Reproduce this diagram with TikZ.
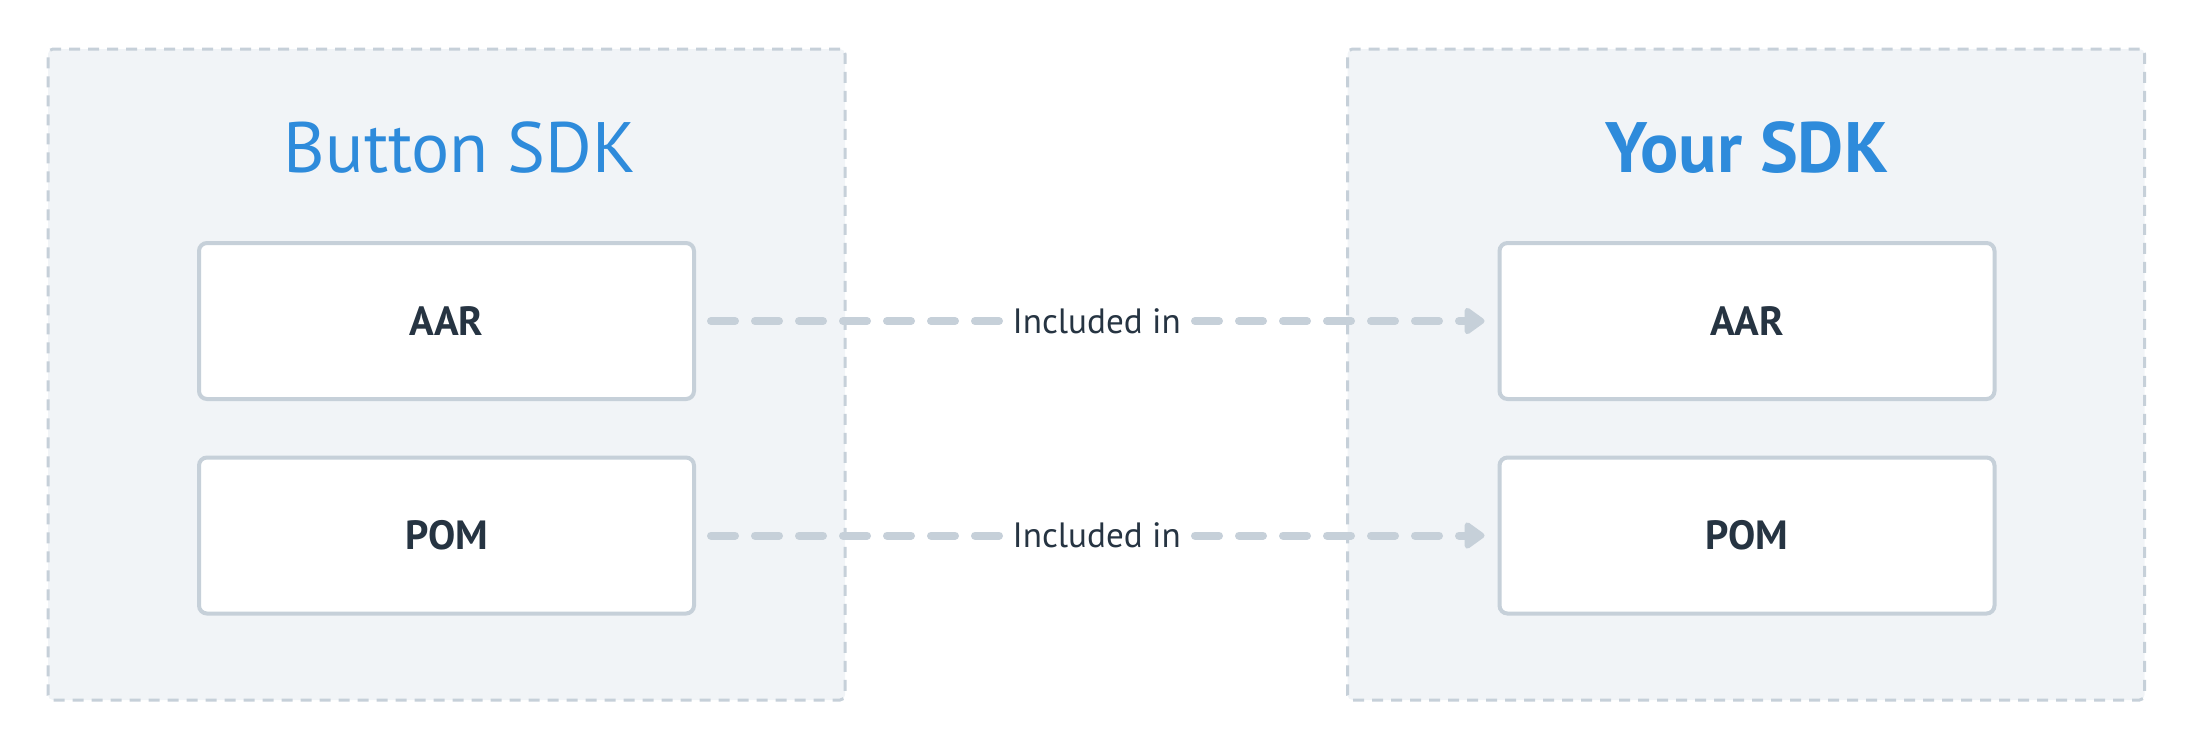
\documentclass[tikz,border=0pt]{standalone}
\usepackage{fontspec}
\setmainfont{PT Sans}
\usetikzlibrary{arrows.meta, positioning}
\definecolor{sdkfill}{RGB}{241, 244, 247}
\definecolor{sdkline}{RGB}{198, 208, 217}
\definecolor{titleblue}{RGB}{46, 139, 219}
\definecolor{textdark}{RGB}{38, 52, 66}

\begin{document}
\begin{tikzpicture}[
    sdk/.style={draw=sdkline, fill=sdkfill, line width=0.3mm, dash pattern=on 1.1mm off 0.8mm, rounded corners=0.5mm, minimum width=7.97cm, minimum height=6.51cm, inner sep=0pt},
    sdktitle/.style={text=titleblue, font=\fontsize{20.3}{24}\selectfont, inner sep=0pt},
    artifact/.style={draw=sdkline, fill=white, line width=0.4mm, rounded corners=0.8mm, minimum width=4.95cm, minimum height=1.56cm, text=textdark, font=\bfseries\fontsize{11.6}{14}\selectfont},
    arrow/.style={draw=sdkline, line width=0.8mm, line cap=round, dash pattern=on 2.4mm off 2.0mm, -{Triangle[length=2.2mm, width=3.0mm, round]}, shorten <=0.15cm, shorten >=0.13cm},
    tag/.style={fill=white, text=textdark, font=\fontsize{10}{12}\selectfont, inner xsep=0.8mm, inner ysep=0.5mm}
]
\useasboundingbox (0, 0) rectangle (21.94, 7.52);

% SDK containers
\node[sdk] (button) at (4.465, 3.775) {};
\node[sdk] (yours) at (17.46, 3.775) {};

% Titles
\node[sdktitle] (buttontitle) at (4.60, 6.04) {Button SDK};
\node[sdktitle, font=\bfseries\fontsize{20.3}{24}\selectfont] (yourstitle) at (17.47, 6.04) {Your SDK};

% Artifacts
\node[artifact] (aarleft) at (4.465, 4.31) {AAR};
\node[artifact] (pomleft) at (4.465, 2.165) {POM};
\node[artifact] (aarright) at (17.47, 4.31) {AAR};
\node[artifact] (pomright) at (17.47, 2.165) {POM};

% Arrows
\draw[arrow] (aarleft) -- node[tag] {Included in} (aarright);
\draw[arrow] (pomleft) -- node[tag] {Included in} (pomright);

\end{tikzpicture}
\end{document}
